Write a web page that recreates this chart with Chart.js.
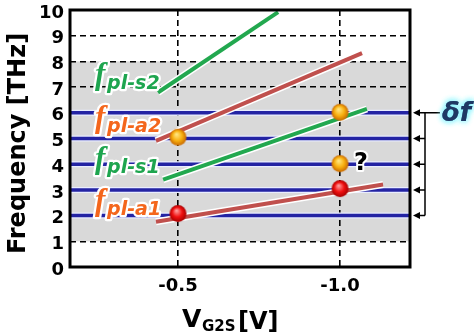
<!DOCTYPE html>
<html><head><meta charset="utf-8">
<script src="https://cdn.jsdelivr.net/npm/chart.js@4"></script>
<style>html,body{margin:0;padding:0;background:#fff;overflow:hidden}</style>
</head><body>
<canvas id="c" width="474" height="336"></canvas>
<script>
// ---- data ----
const yTickValues = [0,1,2,3,4,5,6,7,8,9,10];
const xTickValues = [-0.5, -1.0];
const xRange = [-1.216, -0.1667];
const bandRange = [1, 8];
const levelLines = [2, 3, 4, 5, 6];
const s2X = [-0.438, -0.809], s2Y = [6.79, 9.92];
const a2X = [-0.432, -1.068], a2Y = [4.91, 8.32];
const s1X = [-0.454, -1.083], s1Y = [3.40, 6.15];
const a1X = [-0.432, -1.133], a1Y = [1.76, 3.21];
const redX = [-0.5, -1.0], redY = [2.08, 3.05];
const orangeX = [-0.5, -1.0, -1.0], orangeY = [5.05, 6.02, 4.02];
const labelNames = ['pl-s2', 'pl-a2', 'pl-s1', 'pl-a1'];
const labelY = [6.91, 5.27, 3.66, 2.02];
const labelX = -0.238;

const GREEN = '#1ea54f', ORANGE = '#f4661c', GREENL = '#22a84f', REDL = '#c0504d', BLUE = '#2323a3';

function ball(c0, c1, c2) {
  const r = 8.5, cv = document.createElement('canvas');
  cv.width = cv.height = 19;
  const g = cv.getContext('2d');
  const c = 9.5;
  const gr = g.createRadialGradient(c - 1.5, c - 3, 0.5, c, c, r);
  gr.addColorStop(0, c0); gr.addColorStop(0.55, c1); gr.addColorStop(1, c2);
  g.fillStyle = gr; g.beginPath(); g.arc(c, c, r, 0, Math.PI * 2); g.fill();
  return cv;
}
const redBall = ball('#ff9a9a', '#f01010', '#a80000');
const orangeBall = ball('#ffe680', '#f8b010', '#c86800');

const pts = (xs, ys) => xs.map((x, i) => ({x, y: ys[i]}));
const lineDs = (xs, ys, color, w, order) => ({type: 'line', data: pts(xs, ys), borderColor: color, borderWidth: w,
  pointRadius: 0, order, fill: false, tension: 0, borderCapStyle: 'butt'});

const datasets = [];
datasets.push({type: 'line', data: pts(redX, redY), showLine: false, pointStyle: redBall, pointRadius: 9, order: 0});
datasets.push({type: 'line', data: pts(orangeX, orangeY), showLine: false, pointStyle: orangeBall, pointRadius: 9, order: 0});
[[s2X, s2Y, GREENL], [a2X, a2Y, REDL], [s1X, s1Y, GREENL], [a1X, a1Y, REDL]].forEach(([xs, ys, c]) => {
  datasets.push(lineDs(xs, ys, c, 4, 1));
  datasets.push(lineDs(xs, ys, '#ffffff', 7, 2));
});
levelLines.forEach(v => {
  datasets.push(lineDs([xRange[1], xRange[0]], [v, v], BLUE, 3.5, 3));
  datasets.push(lineDs([xRange[1], xRange[0]], [v, v], '#e8ecff', 6, 4));
});

const deco = {
  id: 'deco',
  beforeDraw(chart) {
    const {ctx, chartArea: a, scales: {y}} = chart;
    ctx.save();
    ctx.fillStyle = '#d9d9d9';
    const t = y.getPixelForValue(bandRange[1]), b = y.getPixelForValue(bandRange[0]);
    ctx.fillRect(a.left, t, a.right - a.left, b - t);
    ctx.restore();
  },
  afterDraw(chart) {
    const {ctx, chartArea: a, scales: {x, y}} = chart;
    ctx.save();
    // frame
    ctx.strokeStyle = '#000'; ctx.lineWidth = 3;
    ctx.strokeRect(a.left, a.top, a.right - a.left, a.bottom - a.top);
    // curve labels
    const lx = x.getPixelForValue(labelX);
    const items = labelNames.map((n, i) => ({n, yb: y.getPixelForValue(labelY[i]), c: n.includes('s') ? GREEN : ORANGE}));
    ctx.lineJoin = 'round'; ctx.textAlign = 'left'; ctx.textBaseline = 'alphabetic';
    ctx.strokeStyle = '#fff'; ctx.lineWidth = 4.5;
    const F1 = 'bold italic 31px "Liberation Serif"', F2 = 'bold italic 19px "DejaVu Sans"';
    items.forEach(it => {
      ctx.font = F1; ctx.strokeText('f', lx + 2, it.yb - 5);
      ctx.font = F2; ctx.strokeText(it.n, lx + 14, it.yb);
    });
    items.forEach(it => {
      ctx.fillStyle = it.c;
      ctx.font = F1; ctx.fillText('f', lx + 2, it.yb - 5);
      ctx.font = F2; ctx.fillText(it.n, lx + 14, it.yb);
    });
    // question mark
    const qx = x.getPixelForValue(orangeX[2]) + 21, qy = y.getPixelForValue(orangeY[2]);
    ctx.font = 'bold 24px "DejaVu Sans"'; ctx.textAlign = 'center'; ctx.textBaseline = 'middle';
    ctx.strokeStyle = '#fff'; ctx.lineWidth = 4;
    ctx.strokeText('?', qx, qy); ctx.fillStyle = '#000'; ctx.fillText('?', qx, qy);
    // delta f arrows
    const xr = a.right;
    const ys = levelLines.map(v => y.getPixelForValue(v));
    const yTop = Math.min(...ys), yBot = Math.max(...ys);
    ctx.strokeStyle = '#000'; ctx.fillStyle = '#000'; ctx.lineWidth = 1.5;
    ctx.beginPath();
    ctx.moveTo(xr + 15, yTop); ctx.lineTo(xr + 15, yBot);
    ctx.moveTo(xr + 15, yTop); ctx.lineTo(xr + 30, yTop);
    ys.forEach(py => { ctx.moveTo(xr + 9, py); ctx.lineTo(xr + 15, py); });
    ctx.stroke();
    ys.forEach(py => {
      ctx.beginPath(); ctx.moveTo(xr + 3, py); ctx.lineTo(xr + 10, py - 3.5); ctx.lineTo(xr + 10, py + 3.5); ctx.closePath(); ctx.fill();
    });
    ctx.font = 'bold italic 26px "DejaVu Sans"'; ctx.textAlign = 'left'; ctx.textBaseline = 'alphabetic';
    ctx.shadowColor = '#8ef4ff'; ctx.shadowBlur = 6;
    ctx.fillStyle = '#1f3864';
    for (let k = 0; k < 3; k++) ctx.fillText('δf', xr + 32, yTop + 8);
    ctx.shadowBlur = 0;
    // axis titles
    ctx.fillStyle = '#000'; ctx.textAlign = 'left'; ctx.textBaseline = 'alphabetic';
    const tx = x.getPixelForValue(xTickValues[0]) + 4;
    ctx.font = 'bold 25px "DejaVu Sans"'; ctx.fillText('V', tx, 327);
    ctx.font = 'bold 15px "DejaVu Sans"'; ctx.fillText('G2S', tx + 20, 331);
    ctx.font = 'bold 24px "DejaVu Sans"'; ctx.fillText('[V]', tx + 56, 329);
    ctx.translate(25, (a.top + a.bottom) / 2 + 5);
    ctx.rotate(-Math.PI / 2);
    ctx.textAlign = 'center';
    ctx.font = 'bold 24px "DejaVu Sans"'; ctx.fillText('Frequency [THz]', 0, 0);
    ctx.restore();
  }
};

new Chart(document.getElementById('c'), {
  type: 'line',
  data: {datasets},
  options: {
    responsive: false, animation: false, events: [],
    layout: {padding: {left: 0, top: 5, right: 64, bottom: 0}},
    plugins: {legend: {display: false}, tooltip: {enabled: false}},
    scales: {
      x: {
        type: 'linear', min: xRange[0], max: xRange[1], reverse: true, bounds: 'data',
        afterBuildTicks: s => { s.ticks = xTickValues.map(v => ({value: v})); },
        afterFit: s => { s.height = 69; s.paddingLeft = 0; s.paddingRight = 0; },
        ticks: {font: {family: 'DejaVu Sans', weight: 'bold', size: 18}, color: '#000', padding: 9,
          autoSkip: false, maxRotation: 0, callback: v => Number(v).toFixed(1)},
        grid: {color: '#000', lineWidth: 1.6, drawTicks: false},
        border: {display: false, dash: [6, 4]}
      },
      y: {
        type: 'linear', min: yTickValues[0], max: yTickValues[yTickValues.length - 1],
        afterBuildTicks: s => { s.ticks = yTickValues.map(v => ({value: v})); },
        afterFit: s => { s.width = 70; s.paddingTop = 0; s.paddingBottom = 0; },
        ticks: {font: {family: 'DejaVu Sans', weight: 'bold', size: 18}, color: '#000', padding: 6, labelOffset: 3},
        grid: {color: '#000', lineWidth: 1.6, drawTicks: false},
        border: {display: false, dash: [6, 4]}
      }
    }
  },
  plugins: [deco]
});
</script>
</body></html>
